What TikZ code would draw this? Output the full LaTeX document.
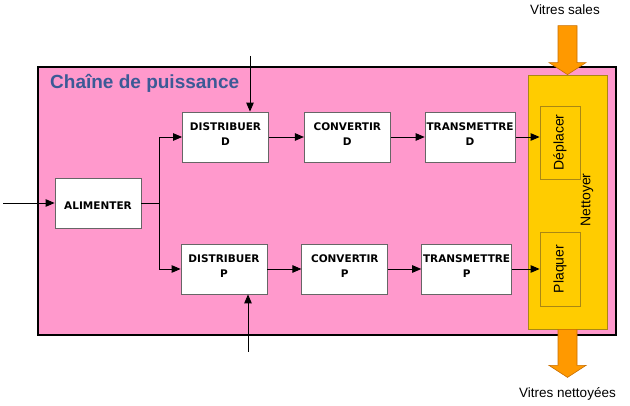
\documentclass[tikz,border=0pt]{standalone}
\usepackage{fontspec}
\setmainfont{Liberation Sans}
\newfontfamily\boxfont{DejaVu Sans}
\usetikzlibrary{arrows.meta,positioning}
\definecolor{chainepink}{RGB}{255,153,204}
\definecolor{titleblue}{RGB}{60,90,150}
\definecolor{netyellow}{RGB}{255,204,0}
\definecolor{netborder}{RGB}{170,135,20}
\definecolor{vitreorange}{RGB}{255,153,0}
\definecolor{vitreborder}{RGB}{200,110,0}

\begin{document}
\begin{tikzpicture}[x=1pt, y=-1pt,
  fbox/.style={rectangle, draw=black!60, fill=white, line width=0.8pt,
    minimum width=86pt, minimum height=50pt, align=center, inner sep=0pt,
    font=\boxfont\bfseries\fontsize{10.5}{15}\selectfont, text depth=6pt},
  subbox/.style={rectangle, draw=netborder, fill=netyellow, line width=0.8pt,
    rotate=90, minimum height=40pt, font=\fontsize{14}{16}\selectfont},
  arr/.style={-{Triangle[length=9pt,width=7.5pt]}, black, line width=0.9pt},
  bigarrow/.style={fill=vitreorange, draw=vitreborder, line width=0.6pt}]
\useasboundingbox (0,0) rectangle (630,406);
% cadre de la chaine de puissance
\draw[fill=chainepink, line width=2.2pt] (38,67) rectangle (616,335);
\node[anchor=west, inner sep=0pt, text=titleblue,
  font=\bfseries\fontsize{19}{22}\selectfont] (titre) at (50,83) {Chaîne de puissance};
% fonctions
\node[fbox, text height=14pt, text depth=0pt] (alim) at (98,203) {ALIMENTER};
\node[fbox] (dd) at (225.5,137) {DISTRIBUER\\D};
\node[fbox, right=35pt of dd] (cd) {CONVERTIR\\D};
\node[fbox, minimum width=90pt, right=34pt of cd] (td) {TRANSMETTRE\\D};
\node[fbox] (dp) at (224,269) {DISTRIBUER\\P};
\node[fbox, right=34pt of dp] (cp) {CONVERTIR\\P};
\node[fbox, minimum width=90pt, right=33pt of cp] (tp) {TRANSMETTRE\\P};
% effecteur
\node[rectangle, draw=netborder, fill=netyellow, line width=0.8pt,
  minimum width=79pt, minimum height=254pt] (net) at (567.5,202) {};
\node[rotate=90, font=\fontsize{14}{16}\selectfont] (netlbl) at (587,200) {Nettoyer};
\node[subbox, minimum width=73pt] (dep) at (560,142.5) {Déplacer};
\node[subbox, minimum width=74pt] (plq) at (560,269) {Plaquer};
% liaisons
\coordinate (ein) at (3,203);
\coordinate (ed) at (250,56);
\coordinate (ep) at (248,352);
\draw[arr] (ein) -- (alim.west);
\draw[arr] (alim.east) -- ++(18,0) |- (dd.west);
\draw[arr] (alim.east) -- ++(18,0) |- (dp.west);
\draw[arr] (ed) -- (ed |- dd.north);
\draw[arr] (ep) -- (ep |- dp.south);
\draw[arr] (dd) -- (cd);
\draw[arr] (cd) -- (td);
\draw[arr] (td) -- (td -| dep.north);
\draw[arr] (dp) -- (cp);
\draw[arr] (cp) -- (tp);
\draw[arr] (tp) -- (tp -| plq.north);
% vitres
\draw[bigarrow] (net.north) -- ++(-18.5,-12) -- ++(9,0) -- ++(0,-37)
  -- ++(19,0) -- ++(0,37) -- ++(9,0) -- cycle;
\draw[bigarrow] (net.south) ++(-9.5,0) -- ++(0,36) -- ++(-9,0) -- ++(18.5,12)
  -- ++(18.5,-12) -- ++(-9,0) -- ++(0,-36) -- cycle;
\node[font=\fontsize{13.5}{16}\selectfont] (sales) at (565,10) {Vitres sales};
\node[font=\fontsize{13.5}{16}\selectfont] (propres) at (567.5,394) {Vitres nettoyées};
\end{tikzpicture}
\end{document}
